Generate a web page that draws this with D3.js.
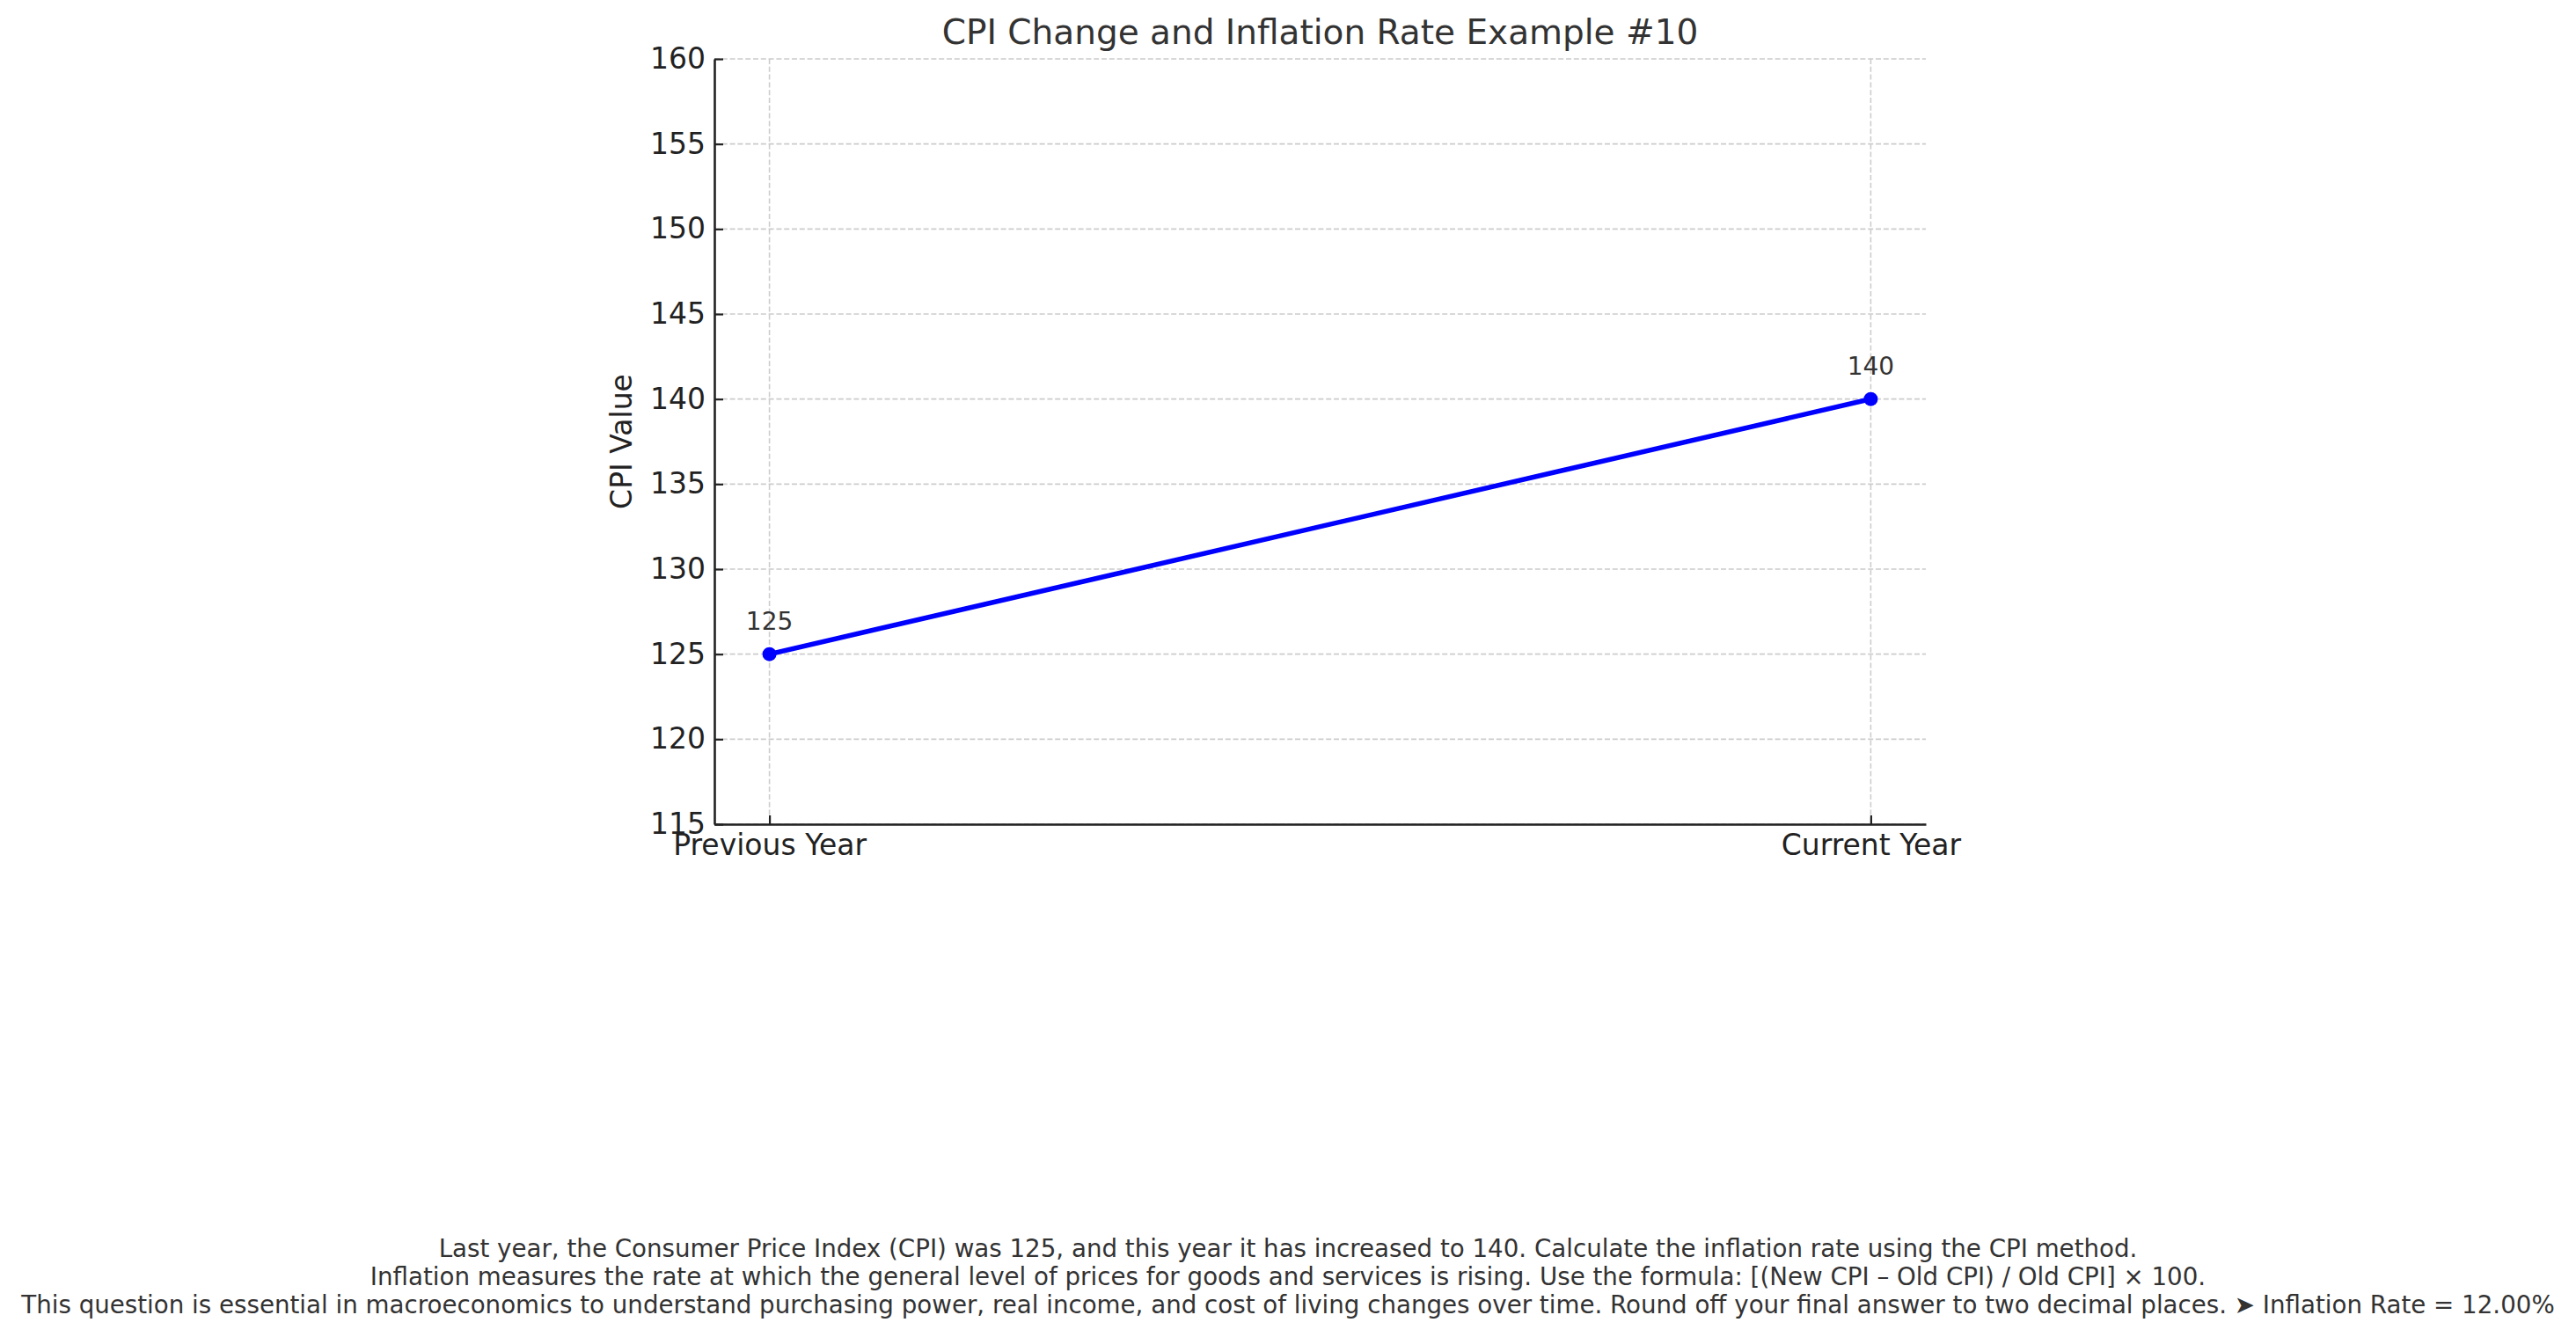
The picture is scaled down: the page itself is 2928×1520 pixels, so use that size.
<!DOCTYPE html>
<html><head><meta charset="utf-8">
<script src="https://cdn.jsdelivr.net/npm/d3@7"></script>
<style>body{margin:0;background:#fff}svg{display:block}</style>
</head><body>
<svg id="c" width="2928" height="1520"></svg>
<script>
const categories = ["Previous Year", "Current Year"];
const cpiValues = [125, 140];
const yTicks = [115, 120, 125, 130, 135, 140, 145, 150, 155, 160];
const titleText = "CPI Change and Inflation Rate Example #10";
const yLabel = "CPI Value";
const footerLines = [
  "Last year, the Consumer Price Index (CPI) was 125, and this year it has increased to 140. Calculate the inflation rate using the CPI method.",
  "Inflation measures the rate at which the general level of prices for goods and services is rising. Use the formula: [(New CPI \u2013 Old CPI) / Old CPI] \u00d7 100.",
  "This question is essential in macroeconomics to understand purchasing power, real income, and cost of living changes over time. Round off your final answer to two decimal places. \u27a4 Inflation Rate = 12.00%"
];

const W = 2928, H = 1520;
const m = {left: 812, right: 2189, top: 67, bottom: 937};
const svg = d3.select("#c");
const font = "DejaVu Sans, sans-serif";

// matplotlib 5% margins: category index range -0.05..1.05
const xs = d3.scaleLinear().domain([-0.05, 1.05]).range([m.left, m.right]);
const xPos = c => xs(categories.indexOf(c));
const y = d3.scaleLinear().domain([115, 160]).range([m.bottom, m.top]);

// grid
const g = svg.append("g");
g.selectAll(".hg").data(yTicks).join("line")
  .attr("x1", m.left).attr("x2", m.right)
  .attr("y1", d => y(d)).attr("y2", d => y(d))
  .attr("stroke", "#cccccc").attr("stroke-width", 1.6).attr("stroke-dasharray", "6,2.8");
g.selectAll(".vg").data(categories).join("line")
  .attr("x1", d => xPos(d)).attr("x2", d => xPos(d))
  .attr("y1", m.top).attr("y2", m.bottom)
  .attr("stroke", "#cccccc").attr("stroke-width", 1.6).attr("stroke-dasharray", "6,2.8");

// y axis
const yAxis = d3.axisLeft(y).tickValues(yTicks).tickSizeInner(-10).tickSizeOuter(0).tickPadding(10);
const ya = svg.append("g").attr("transform", `translate(${m.left},0)`).call(yAxis);
ya.select(".domain").attr("stroke", "#222").attr("stroke-width", 2.6);
ya.selectAll(".tick line").attr("stroke", "#222").attr("stroke-width", 2.2);
ya.selectAll(".tick text").attr("font-family", font).attr("font-size", 33).attr("fill", "#222").attr("x", -10);

// x axis
const xAxis = d3.axisBottom(xs).tickValues([0, 1]).tickFormat(i => categories[i]).tickSizeInner(-10).tickSizeOuter(0).tickPadding(10);
const xa = svg.append("g").attr("transform", `translate(0,${m.bottom})`).call(xAxis);
xa.select(".domain").attr("stroke", "#222").attr("stroke-width", 2.6);
xa.selectAll(".tick line").attr("stroke", "#222").attr("stroke-width", 2.2);
xa.selectAll(".tick text").attr("font-family", font).attr("font-size", 33).attr("fill", "#222").attr("y", 12).attr("dy", "0.71em");

// line
const pts = categories.map((c, i) => [xPos(c), y(cpiValues[i])]);
svg.append("path").attr("d", d3.line()(pts)).attr("fill", "none")
  .attr("stroke", "#0000ff").attr("stroke-width", 5.5).attr("stroke-linecap", "square");
svg.selectAll(".pt").data(categories).join("circle")
  .attr("cx", d => xPos(d)).attr("cy", (d, i) => y(cpiValues[i])).attr("r", 8).attr("fill", "#0000ff");
svg.selectAll(".lbl").data(categories).join("text")
  .attr("x", d => xPos(d)).attr("y", (d, i) => y(cpiValues[i]) - 28)
  .attr("text-anchor", "middle").attr("font-family", font).attr("font-size", 28).attr("fill", "#333")
  .text((d, i) => cpiValues[i]);

// title
svg.append("text").attr("x", (m.left + m.right) / 2).attr("y", 50)
  .attr("text-anchor", "middle").attr("font-family", font).attr("font-size", 39).attr("fill", "#333")
  .text(titleText);

// y label
svg.append("text").attr("transform", `translate(718,${(m.top + m.bottom) / 2}) rotate(-90)`)
  .attr("text-anchor", "middle").attr("font-family", font).attr("font-size", 33).attr("fill", "#222")
  .text(yLabel);

// footer
svg.selectAll(".ft").data(footerLines).join("text")
  .attr("x", W / 2).attr("y", (d, i) => 1429 + i * 32)
  .attr("text-anchor", "middle").attr("font-family", font).attr("font-size", 27.7).attr("fill", "#333")
  .text(d => d);
</script>
</body></html>
